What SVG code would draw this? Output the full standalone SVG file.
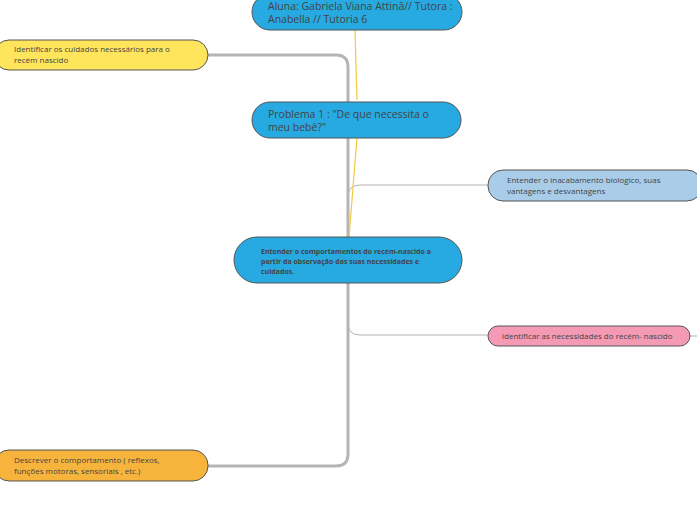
<svg xmlns="http://www.w3.org/2000/svg" width="697" height="520" viewBox="0 0 697 520">
<style>
.n{stroke:#555;stroke-width:1}
.t{font-family:"Open Sans","Noto Sans",sans-serif;fill:#444}
.c{fill:none;stroke:#b5b5b5}
</style>
<rect width="697" height="520" fill="#fff"/>
<g id="connectors">
<path class="c" d="M208 55 H336 Q348 55 348 67 V454 Q348 466 336 466 H208" stroke-width="3"/>
<path class="c" d="M348 197 Q348 185 360 185 H488" stroke-width="1"/>
<path class="c" d="M348 323 Q348 335 360 335 H488" stroke-width="1"/>
<path d="M690 336 H697" class="c"/>
<path d="M355 30 L357 100 M357 138 L349 237" fill="none" stroke="#f5c842" stroke-width="1.2"/>
</g>
<g id="top"><rect class="n" x="252" y="-6" width="210" height="36" rx="18" fill="#27aae1"/>
<text class="t" font-size="10.5"><tspan x="268" y="10">Aluna: Gabriela Viana Attinã// Tutora :</tspan><tspan x="268" y="23">Anabella // Tutoria 6</tspan></text></g>
<g id="problema"><rect class="n" x="252" y="102" width="209" height="36" rx="18" fill="#27aae1"/>
<text class="t" font-size="10.5"><tspan x="268" y="118">Problema 1 :  "De que necessita o</tspan><tspan x="268" y="131">meu bebê?"</tspan></text></g>
<g id="central"><rect class="n" x="234" y="237" width="228" height="46" rx="23" fill="#27aae1"/>
<text class="t" font-size="7" font-weight="bold"><tspan x="261" y="254">Entender o comportamentos do recém-nascido a</tspan><tspan x="261" y="264">partir da observação das suas necessidades e</tspan><tspan x="261" y="274">cuidados.</tspan></text></g>
<g id="cuidados"><rect class="n" x="-6" y="40" width="214" height="30" rx="15" fill="#ffe55c"/>
<text class="t" font-size="8"><tspan x="14" y="52">Identificar os cuidados necessários para o</tspan><tspan x="14" y="63">recém nascido</tspan></text></g>
<g id="inacabamento"><rect class="n" x="488" y="170" width="214" height="31" rx="15" fill="#a9cce8"/>
<text class="t" font-size="8"><tspan x="507" y="183">Entender o inacabamento biologico, suas</tspan><tspan x="507" y="194">vantagens e desvantagens</tspan></text></g>
<g id="necessidades"><rect class="n" x="488" y="326" width="202" height="20" rx="10" fill="#f49ab5"/>
<text class="t" font-size="8"><tspan x="502" y="339">identificar as necessidades do recém- nascido</tspan></text></g>
<g id="comportamento"><rect class="n" x="-6" y="450" width="214" height="31" rx="15" fill="#f7b43c"/>
<text class="t" font-size="8"><tspan x="14" y="463">Descrever o comportamento ( reflexos,</tspan><tspan x="14" y="474">funções motoras, sensoriais , etc.)</tspan></text></g>
</svg>
